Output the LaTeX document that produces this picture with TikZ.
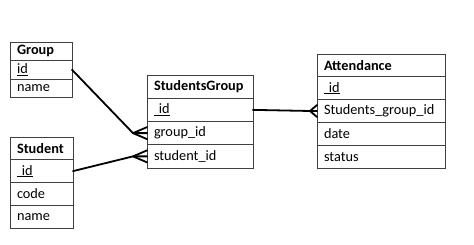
\documentclass[tikz,border=0pt]{standalone}
\usepackage{fontspec}
\setmainfont{Carlito}
\usetikzlibrary{calc,positioning}
\newcommand\erfont{\fontsize{14.3}{17}\selectfont}
\tikzset{
    row/.style = {draw=black!75, rectangle, line width=0.8pt,
        text width=#1, inner xsep=7pt, inner ysep=0pt, outer sep=0pt,
        align=left, anchor=north west, font=\erfont},
    hdr/.style = {font=\erfont\bfseries},
    conn/.style = {line width=1.8pt, line cap=round, line join=round}
}

\begin{document}
\begin{tikzpicture}[
    x=1pt, y=-1pt,
    grp/.style={row=48pt, minimum height=18.5pt},
    stu/.style={row=49pt, minimum height=22.75pt},
    sg/.style={row=92pt, minimum height=23.25pt},
    att/.style={row=114pt, minimum height=22.8pt}
]
\useasboundingbox (0,0) rectangle (474,245);

% tables
\node[grp, hdr] (group) at (10,42) {Group};
\node[grp, below=0pt of group] (group-id) {\underline{id}};
\node[grp, below=0pt of group-id] (group-name) {name};

\node[stu, hdr] (student) at (10,137) {Student};
\node[stu, below=0pt of student] (student-id) {\underline{\ id}};
\node[stu, below=0pt of student-id] (student-code) {code};
\node[stu, below=0pt of student-code] (student-name) {name};

\node[sg, hdr] (sg) at (147,75) {StudentsGroup};
\node[sg, below=0pt of sg] (sg-id) {\underline{\ id}};
\node[sg, below=0pt of sg-id] (sg-gid) {group\_id};
\node[sg, below=0pt of sg-gid] (sg-sid) {student\_id};

\node[att, hdr] (att) at (317,54) {Attendance};
\node[att, below=0pt of att] (att-id) {\underline{\ id}};
\node[att, below=0pt of att-id] (att-sgid) {Students\_group\_id};
\node[att, below=0pt of att-sgid] (att-date) {date};
\node[att, below=0pt of att-date] (att-status) {status};

% relations (crow's foot at the many side)
\coordinate (gcf) at ($(sg-gid.west)+(-14,0)$);
\draw[conn] (group-id.east) -- (gcf) -- (sg-gid.west);
\draw[conn] ($(sg-gid.west)+(0,-6)$) -- (gcf) -- ($(sg-gid.west)+(0,6)$);

\coordinate (scf) at ($(sg-sid.west)+(-14,0)$);
\draw[conn] (student-id.east) -- (scf) -- (sg-sid.west);
\draw[conn] ($(sg-sid.west)+(0,-6)$) -- (scf) -- ($(sg-sid.west)+(0,6)$);

\coordinate (acf) at ($(att-sgid.west)+(-7,0)$);
\draw[conn] (sg-id.east) -- (acf) -- (att-sgid.west);
\draw[conn] ($(att-sgid.west)+(0,-6)$) -- (acf) -- ($(att-sgid.west)+(0,6)$);
\end{tikzpicture}
\end{document}
